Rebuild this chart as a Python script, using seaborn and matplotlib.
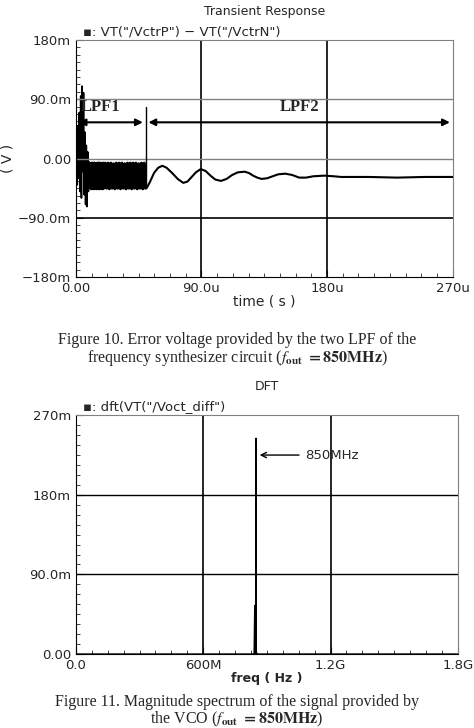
import matplotlib
matplotlib.use('Agg')
import matplotlib.pyplot as plt
import seaborn as sns
import pandas as pd
from matplotlib.ticker import AutoMinorLocator

sns.set_style('white')
plt.rcParams['font.family'] = ['DejaVu Sans']
plt.rcParams['mathtext.fontset'] = 'stix'

# transient response (time in us, voltage in mV)
t_start = [0, 0.5, 1, 1.5, 2, 2.5, 3, 3.5, 4, 4.5, 5, 5.5, 6, 6.5, 7, 7.5, 8, 8.5, 9, 9.5, 10]
v_start = [0, 30, -40, 50, -30, 70, -50, 95, -60, 110, -20, 100, -55, 40, -70, 20, -73, 10, -50, -5, -45]
t_block = [10.5, 11, 11.5, 12, 12.5, 13, 13.5, 14, 14.5, 15, 15.5, 16, 16.5, 17, 17.5, 18, 18.5, 19, 19.5, 20,
           21, 22, 23, 24, 25, 26, 27, 28, 29, 30, 31, 32, 33, 34, 35, 36, 37, 38, 39, 40,
           41, 42, 43, 44, 45, 46, 47, 48, 49, 50]
v_block = [-8, -46, -7, -45, -7, -46, -7, -45, -8, -46, -7, -45, -7, -46, -7, -45, -8, -46, -7, -45,
           -7, -45, -7, -46, -7, -45, -8, -46, -7, -45, -7, -46, -7, -45, -8, -46, -7, -45, -7, -46,
           -7, -45, -7, -46, -8, -45, -7, -46, -7, -45]
t_ring = [50, 51, 53, 56, 59, 62, 65, 69, 73, 77, 80, 83, 86, 89.5, 93, 97, 100, 104, 108, 112, 116, 121, 124,
          127, 130, 133, 137, 141, 145, 150, 155, 160, 165, 170, 178, 185, 190, 200, 210, 230, 250, 270]
v_ring = [-45, -44, -36, -22, -14, -11, -14, -22, -31, -37, -35, -28, -21, -16, -19, -27, -32, -34, -31, -25, -21, -20, -22,
          -26, -29, -31, -30, -27, -24, -23, -25, -29, -29, -27, -26, -27, -28, -28, -28, -29, -28, -28]
lpf_split = 50
lpf_arrow_y = 55

# DFT (freq in MHz, magnitude in mV)
freq = [0, 840, 843, 845, 847, 848, 849, 850, 851, 852, 854, 1800]
mag = [0, 0, 55, 0, 3, 0, 244, 0, 2, 0, 0, 0]

fig = plt.figure(figsize=(4.74, 7.28), dpi=100)
serif = ['Liberation Serif', 'DejaVu Serif']

# --- Transient Response ---
ax1 = fig.add_axes([0.160, 0.6195, 0.795, 0.3255])
sns.lineplot(x=t_start, y=v_start, ax=ax1, color='black', lw=1.2, sort=False, estimator=None)
sns.lineplot(x=t_block, y=v_block, ax=ax1, color='black', lw=2.2, sort=False, estimator=None)
sns.lineplot(x=t_ring, y=v_ring, ax=ax1, color='black', lw=1.5, sort=False, estimator=None)
ax1.set_xlim(0, 270)
ax1.set_ylim(-180, 180)
ax1.set_xticks([0, 90, 180, 270])
ax1.set_xticklabels(['0.00', '90.0u', '180u', '270u'])
ax1.set_yticks([-180, -90, 0, 90, 180])
ax1.set_yticklabels(['\u2212180m', '\u221290.0m', '0.00', '90.0m', '180m'])
for x in [90, 180]:
    ax1.axvline(x, color='black', lw=1.2)
ax1.axhline(90, color='gray', lw=1)
ax1.axhline(0, color='gray', lw=1)
ax1.axhline(-90, color='black', lw=1.2)
ax1.set_xlabel('time ( s )', fontsize=10, labelpad=0)
ax1.set_ylabel('( V )', fontsize=10, labelpad=2)
ax1.set_title('Transient Response', fontsize=9, pad=18)
ax1.text(0.02, 1.02, '\u25aa: VT("/VctrP") \u2212 VT("/VctrN")', transform=ax1.transAxes, fontsize=9.5)
ax1.annotate('', xy=(0, lpf_arrow_y), xytext=(lpf_split, lpf_arrow_y),
             arrowprops=dict(arrowstyle='<|-|>', color='black', lw=1.5))
ax1.annotate('', xy=(lpf_split, lpf_arrow_y), xytext=(270, lpf_arrow_y),
             arrowprops=dict(arrowstyle='<|-|>', color='black', lw=1.5))
ax1.plot([lpf_split, lpf_split], [-45, 78], color='black', lw=1)
ax1.text(18, 72, 'LPF1', fontfamily=serif, fontweight='bold', fontsize=12, ha='center')
ax1.text(160, 72, 'LPF2', fontfamily=serif, fontweight='bold', fontsize=12, ha='center')

# --- DFT ---
ax2 = fig.add_axes([0.160, 0.1016, 0.806, 0.328])
sns.lineplot(x=freq, y=mag, ax=ax2, color='black', lw=1, sort=False, estimator=None)
ax2.set_xlim(0, 1800)
ax2.set_ylim(0, 270)
ax2.set_xticks([0, 600, 1200, 1800])
ax2.set_xticklabels(['0.0', '600M', '1.2G', '1.8G'])
ax2.set_yticks([0, 90, 180, 270])
ax2.set_yticklabels(['0.00', '90.0m', '180m', '270m'])
for x in [600, 1200]:
    ax2.axvline(x, color='black', lw=1.2)
for y in [90, 180]:
    ax2.axhline(y, color='black', lw=1)
ax2.set_xlabel('freq ( Hz )', fontsize=9, fontweight='bold', labelpad=0)
ax2.set_title('DFT', fontsize=9, pad=18)
ax2.text(0.02, 1.02, '\u25aa: dft(VT("/Voct_diff")', transform=ax2.transAxes, fontsize=9.5)
ax2.annotate('850MHz', xy=(853, 225), xytext=(1080, 225), fontsize=9.5, va='center', ha='left',
             arrowprops=dict(arrowstyle='->', color='black', lw=1))

for ax in (ax1, ax2):
    ax.xaxis.set_minor_locator(AutoMinorLocator(8))
    ax.yaxis.set_minor_locator(AutoMinorLocator(8))
    ax.tick_params(which='both', direction='in', left=True, bottom=True, labelsize=9.5)
    ax.tick_params(which='major', length=5)
    ax.tick_params(which='minor', length=3)
    for s in ax.spines.values():
        s.set_color('black')
    ax.spines['top'].set_color('gray')
    ax.spines['right'].set_color('gray')

cap = dict(ha='center', fontfamily=serif, fontsize=11.5)
fig.text(0.5, 0.527, 'Figure 10. Error voltage provided by the two LPF of the', **cap)
fig.text(0.5, 0.503, r'frequency synthesizer circuit ($\mathbf{\mathit{f}_{out}}$ $\mathbf{= 850MHz}$)', **cap)
fig.text(0.5, 0.030, 'Figure 11. Magnitude spectrum of the signal provided by', **cap)
fig.text(0.5, 0.007, r'the VCO ($\mathbf{\mathit{f}_{out}}$ $\mathbf{= 850MHz}$)', **cap)

fig.savefig('out.png', dpi=100)
